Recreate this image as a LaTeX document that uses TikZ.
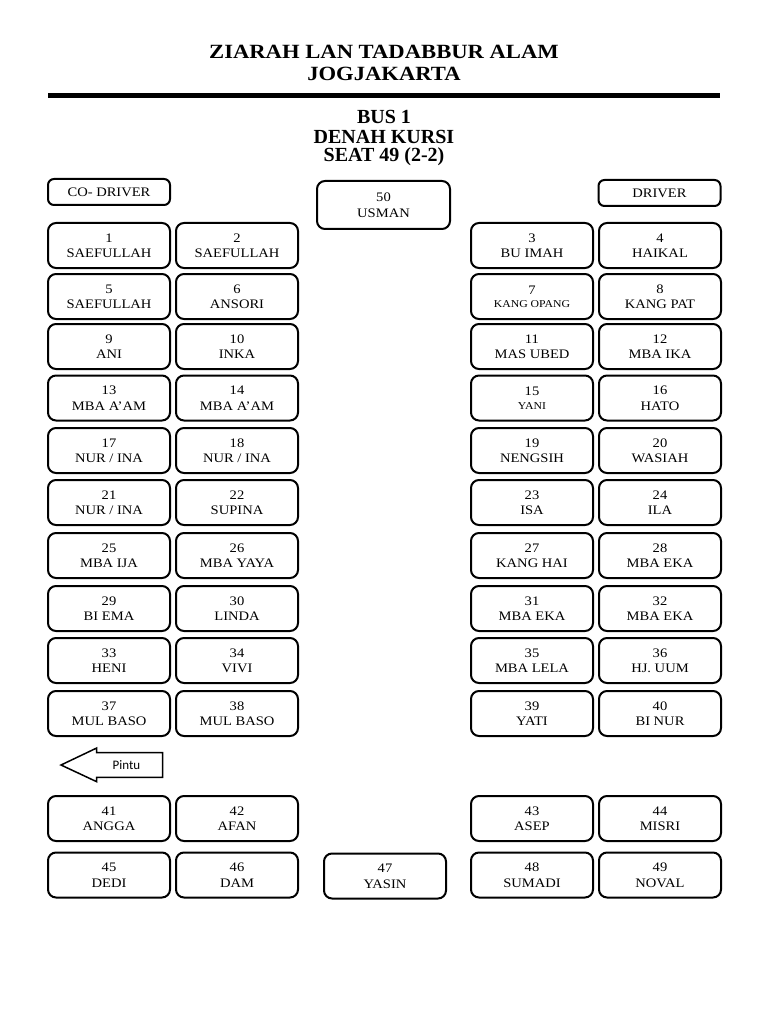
\documentclass[tikz,border=0pt]{standalone}
\usepackage{fontspec}
\setmainfont{Liberation Serif}[FakeStretch=1.12]
\newfontfamily\subfont{Liberation Serif}
\newfontfamily\pintufont{Carlito}
\newcommand\seattext[2]{\rule{0pt}{8.7pt}\smash{#1}\\\smash{#2}}
\newcommand\seattextsmall[2]{\rule{0pt}{8.7pt}\smash{#1}\\[-2pt]\smash{\fontsize{10.5}{12}\selectfont #2}}
\begin{document}
\begin{tikzpicture}[x=1pt,y=-1pt,
  seat/.style={draw, line width=2pt, rounded corners=8pt, minimum width=122pt,
    minimum height=45pt, align=center, inner sep=0pt,
    font=\fontsize{13}{15.5}\selectfont},
  label/.style={draw, line width=2pt, rounded corners=6pt, minimum width=122pt,
    minimum height=26pt, inner sep=0pt, font=\fontsize{13}{15.5}\selectfont},
  titletext/.style={anchor=base, inner sep=0pt, font=\fontsize{20.2}{24}\selectfont\bfseries},
  subtext/.style={anchor=base, inner sep=0pt, font=\subfont\fontsize{20}{24}\selectfont\bfseries}
]
\useasboundingbox (0,0) rectangle (768,1024);

% titles
\node[titletext] (t1) at (384,58.7) {ZIARAH LAN TADABBUR ALAM};
\node[titletext] (t2) at (384,80.2) {JOGJAKARTA};
\draw[line width=5pt] (48,96) -- (720,96);
\node[subtext] (b1) at (384,123.3) {BUS 1};
\node[subtext] (b2) at (384,143.3) {DENAH KURSI};
\node[subtext] (b3) at (384,161.5) {SEAT 49 (2-2)};

% driver labels
\node[label] (codriver) at (109,192) {CO- DRIVER};
\node[label] (driver) at (659.5,193) {DRIVER};
\node[seat, minimum width=133pt, minimum height=48pt] (s50) at (383.5,205) {\seattext{50}{USMAN}};

% seats, left columns (x = 109, 237) and right columns (x = 532, 660)
\foreach \n/\nm/\x/\y in {
  1/SAEFULLAH/109/245.5, 2/SAEFULLAH/237/245.5, 3/BU IMAH/532/245.5, 4/HAIKAL/660/245.5,
  5/SAEFULLAH/109/296.5, 6/ANSORI/237/296.5, 8/KANG PAT/660/296.5,
  9/ANI/109/346.5, 10/INKA/237/346.5, 11/MAS UBED/532/346.5, 12/MBA IKA/660/346.5,
  13/MBA A’AM/109/398, 14/MBA A’AM/237/398, 16/HATO/660/398,
  17/{NUR / INA}/109/450.5, 18/{NUR / INA}/237/450.5, 19/NENGSIH/532/450.5, 20/WASIAH/660/450.5,
  21/{NUR / INA}/109/502.5, 22/SUPINA/237/502.5, 23/ISA/532/502.5, 24/ILA/660/502.5,
  25/MBA IJA/109/555.5, 26/MBA YAYA/237/555.5, 27/KANG HAI/532/555.5, 28/MBA EKA/660/555.5,
  29/BI EMA/109/608.5, 30/LINDA/237/608.5, 31/MBA EKA/532/608.5, 32/MBA EKA/660/608.5,
  33/HENI/109/660.5, 34/VIVI/237/660.5, 35/MBA LELA/532/660.5, 36/HJ. UUM/660/660.5,
  37/MUL BASO/109/713.5, 38/MUL BASO/237/713.5, 39/YATI/532/713.5, 40/BI NUR/660/713.5,
  41/ANGGA/109/818.5, 42/AFAN/237/818.5, 43/ASEP/532/818.5, 44/MISRI/660/818.5,
  45/DEDI/109/875, 46/DAM/237/875, 47/YASIN/385/876, 48/SUMADI/532/875, 49/NOVAL/660/875}
  \node[seat] (s\n) at (\x,\y) {\seattext{\n}{\nm}};

\node[seat] (s7) at (532,296.5) {\seattextsmall{7}{KANG OPANG}};
\node[seat] (s15) at (532,398) {\seattextsmall{15}{YANI}};

% door arrow
\draw[line width=1.5pt, line join=miter] (162.7,752.7) -- (96.7,752.7) -- (96.7,748) -- (61,765)
  -- (96.7,781.7) -- (96.7,777.3) -- (162.7,777.3) -- cycle;
\node[inner sep=0pt, font=\pintufont\fontsize{13}{14}\selectfont] (pintu) at (126.5,765) {Pintu};
\end{tikzpicture}
\end{document}
